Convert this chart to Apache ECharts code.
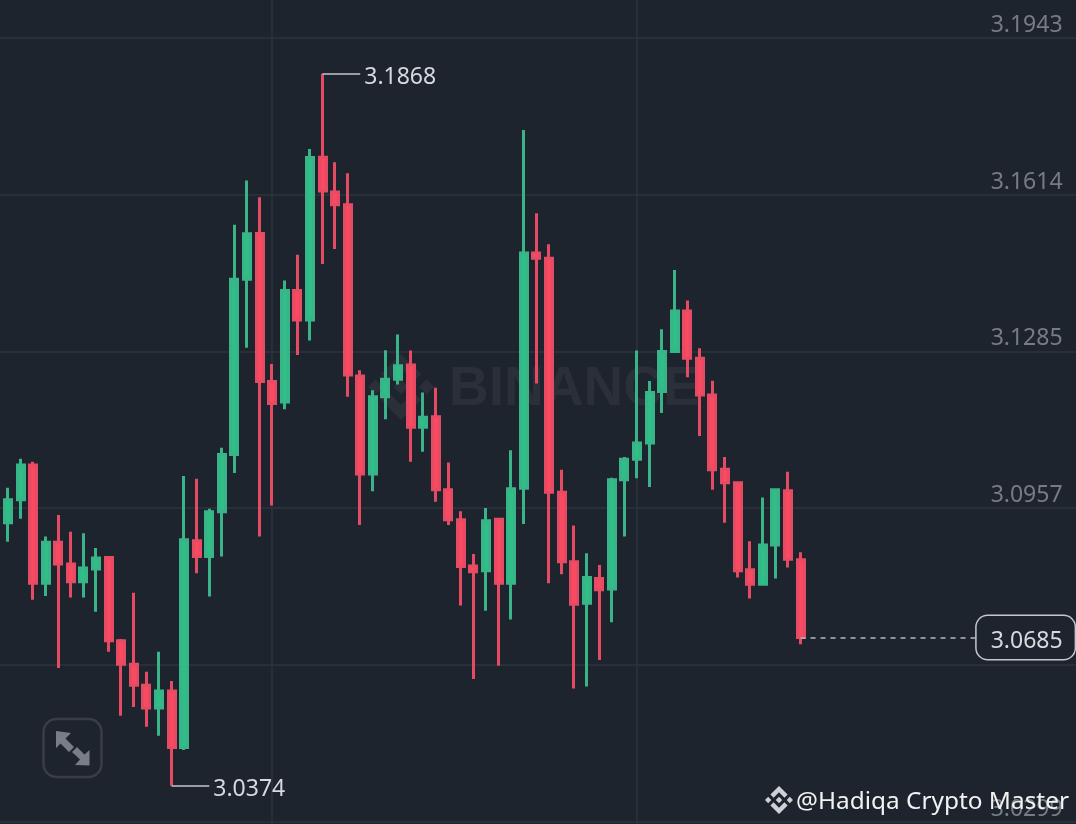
<!DOCTYPE html>
<html>
<head>
<meta charset="utf-8">
<title>Chart</title>
<script src="https://cdn.jsdelivr.net/npm/echarts@6/dist/echarts.min.js"></script>
<style>
  html, body { margin: 0; padding: 0; background: #1e242e; }
  #chart { width: 1076px; height: 824px; }
</style>
</head>
<body>
<div id="chart"></div>
<script>
const opens = [3.0974,3.0926,3.0974,3.1047,3.0799,3.0885,3.0839,3.0802,3.0829,3.0853,3.0678,3.0629,3.0585,3.0537,3.0573,3.0454,3.0888,3.0855,3.0949,3.1069,3.1437,3.1533,3.1222,3.1179,3.1413,3.1351,3.1693,3.1620,3.1593,3.1234,3.1028,3.1190,3.1227,3.1257,3.1126,3.1148,3.0995,3.0932,3.0835,3.0825,3.0933,3.0799,3.0998,3.1492,3.1481,3.0990,3.0844,3.0757,3.0809,3.0787,3.1016,3.1059,3.1093,3.1201,3.1285,3.1370,3.1271,3.1194,3.1038,3.1010,3.0827,3.0797,3.0879,3.0993,3.0848];
const closes = [3.0929,3.0974,3.1047,3.0799,3.0885,3.0839,3.0802,3.0831,3.0852,3.0678,3.0629,3.0585,3.0537,3.0573,3.0454,3.0890,3.0855,3.0949,3.1069,3.1437,3.1532,3.1222,3.1176,3.1413,3.1351,3.1692,3.1622,3.1593,3.1236,3.1028,3.1190,3.1227,3.1255,3.1126,3.1147,3.0995,3.0932,3.0834,3.0823,3.0930,3.0799,3.0997,3.1492,3.1481,3.0990,3.0844,3.0755,3.0811,3.0785,3.1016,3.1059,3.1093,3.1199,3.1285,3.1370,3.1271,3.1194,3.1037,3.1010,3.0825,3.0797,3.0879,3.0995,3.0849,3.0685];
const lows = [3.0911,3.0886,3.0934,3.0764,3.0772,3.0621,3.0769,3.0769,3.0739,3.0655,3.0521,3.0539,3.0498,3.0479,3.0374,3.0449,3.0820,3.0771,3.0855,3.1030,3.1293,3.0897,3.0962,3.1164,3.1278,3.1308,3.1469,3.1500,3.1190,3.0921,3.0992,3.1143,3.1216,3.1054,3.1075,3.0970,3.0921,3.0752,3.0598,3.0741,3.0626,3.0723,3.0923,3.1218,3.0799,3.0818,3.0578,3.0582,3.0638,3.0717,3.0897,3.1019,3.1001,3.1156,3.1285,3.1231,3.1108,3.0995,3.0926,3.0811,3.0767,3.0795,3.0809,3.0832,3.0671];
const highs = [3.0995,3.0999,3.1060,3.1054,3.0897,3.0942,3.0907,3.0904,3.0873,3.0856,3.0682,3.0779,3.0613,3.0655,3.0594,3.1024,3.1018,3.0955,3.1083,3.1551,3.1644,3.1609,3.1259,3.1434,3.1488,3.1710,3.1868,3.1682,3.1659,3.1246,3.1204,3.1288,3.1321,3.1287,3.1199,3.1209,3.1052,3.0950,3.0860,3.0957,3.0936,3.1078,3.1750,3.1575,3.1510,3.1037,3.0920,3.0862,3.0837,3.1020,3.1064,3.1287,3.1223,3.1332,3.1456,3.1392,3.1292,3.1224,3.1064,3.1012,3.0887,3.0979,3.0998,3.1033,3.0864];
const priceTicks = [3.1943, 3.16142, 3.12854, 3.09566, 3.06278, 3.0299];
const lastPrice = 3.0685;
const gridCandles = [22, 51];
const slots = 87;

const FONT = '"Noto Sans", sans-serif';

// Binance mark as five polygons on a 126.6 unit square
const LOGO_PARTS = [
  [[38.73,53.2],[63.3,28.63],[87.89,53.22],[102.19,38.92],[63.3,0],[24.42,38.88]],
  [[0,63.31],[14.3,49.01],[28.61,63.31],[14.3,77.61]],
  [[38.73,73.41],[63.3,97.98],[87.89,73.39],[102.2,87.68],[63.3,126.59],[24.42,87.71]],
  [[97.99,63.31],[112.29,49.01],[126.61,63.31],[112.3,77.61]],
  [[77.83,63.3],[63.3,48.76],[48.78,63.28],[63.3,77.8]]
];
function logo(x, y, size, fill, z) {
  const k = size / 126.6;
  return LOGO_PARTS.map(part => ({
    type: "polygon", z: z, silent: true,
    shape: { points: part.map(p => [x + p[0] * k, y + p[1] * k]) },
    style: { fill: fill }
  }));
}

const categories = [];
for (let i = 0; i < slots; i++) categories.push(String(i));

const candles = opens.map((o, i) => [o, closes[i], lows[i], highs[i]]);
const maxHigh = Math.max(...highs);
const minLow = Math.min(...lows);
const hiIdx = highs.indexOf(maxHigh);
const loIdx = lows.indexOf(minLow);
const lastIdx = opens.length - 1;

// top + small lineHeight pushes the digits a little below the connector
const extremeLabel = {
  show: true, position: "end", distance: 4, color: "#d6d9dd",
  fontFamily: FONT, fontSize: 23, verticalAlign: "top", lineHeight: 8, formatter: p => p.data.tag
};

const chart = echarts.init(document.getElementById("chart"));
chart.setOption({
  animation: false,
  backgroundColor: "#1e242e",
  grid: { left: -10.87, top: 0, width: 1094.46, height: 824, outerBoundsMode: "none" },
  xAxis: {
    type: "category",
    data: categories,
    axisLine: { show: false },
    axisTick: { show: false },
    axisLabel: { show: false },
    splitLine: { show: false }
  },
  yAxis: {
    type: "value",
    position: "right",
    min: 3.02937,
    max: 3.20227,
    axisLine: { show: false },
    axisTick: { show: false, customValues: priceTicks },
    axisLabel: {
      inside: true,
      margin: 21,
      customValues: priceTicks,
      verticalAlign: "bottom",
      padding: [0, 0, 1, 0],
      color: "#777c83",
      fontFamily: FONT,
      fontSize: 23,
      formatter: v => v.toFixed(4)
    },
    splitLine: { show: true, lineStyle: { color: "#2e333c", width: 1.5 } }
  },
  graphic: [
    ...logo(368, 354, 66, "#2a2f39", 0),
    {
      type: "text", z: 0, silent: true, x: 449, y: 362,
      style: { text: "BINANCE", fill: "#2a2f39", font: 'bold 55px "Liberation Sans", sans-serif' }
    },
    {
      type: "rect", z: 6, silent: true,
      shape: { x: 43.5, y: 719, width: 58, height: 58, r: 13 },
      style: { fill: "none", stroke: "#383d47", lineWidth: 2.5 }
    },
    {
      type: "polygon", z: 6, silent: true,
      shape: { points: [[56, 731], [71, 733], [65.5, 738.5], [74, 747], [69, 752], [60.5, 743.5], [56, 748]] },
      style: { fill: "#787d86" }
    },
    {
      type: "polygon", z: 6, silent: true,
      shape: { points: [[89.5, 765.5], [75, 765], [80, 759.5], [72, 752], [77, 747], [84.5, 754.5], [89.5, 750]] },
      style: { fill: "#787d86" }
    },
    ...logo(765, 786, 28, "#cfd1d4", 10),
    {
      type: "text", z: 10, silent: true, x: 796, y: 790,
      style: { text: "@Hadiqa Crypto Master", fill: "#f1f2f3", font: '24.4px "Noto Sans", sans-serif' }
    }
  ],
  series: [
    {
      type: "line",
      data: [],
      markLine: {
        silent: true, z: 1, symbol: "none", animation: false,
        label: { show: false },
        lineStyle: { color: "#2e333c", width: 1.5, type: "solid" },
        data: gridCandles.map(i => ({ xAxis: i }))
      }
    },
    {
      type: "candlestick",
      z: 2,
      barWidth: 7.5,
      data: candles,
      itemStyle: {
        color: "#2fbf86",
        color0: "#fa4a62",
        borderColor: "#38b488",
        borderColor0: "#e54b63",
        borderWidth: 3
      },
      markLine: {
        silent: true, z: 5, symbol: "none", animation: false,
        data: [
          [
            { coord: [hiIdx, maxHigh], tag: maxHigh.toFixed(4), label: extremeLabel, lineStyle: { color: "#c3c6cb", width: 1.5, type: "solid" } },
            { coord: [hiIdx + 3, maxHigh] }
          ],
          [
            { coord: [loIdx, minLow], tag: minLow.toFixed(4), label: extremeLabel, lineStyle: { color: "#c3c6cb", width: 1.5, type: "solid" } },
            { coord: [loIdx + 3, minLow] }
          ],
          [
            {
              coord: [lastIdx, lastPrice],
              tag: lastPrice.toFixed(4),
              lineStyle: { color: "#b5b9be", width: 1.5, type: [5, 5] },
              label: {
                show: true, position: "end", distance: 0,
                formatter: p => "{v|" + p.data.tag + "}",
                rich: { v: { color: "#d6d9dd", fontFamily: FONT, fontSize: 23, padding: [8, 0, 0, 0] } },
                backgroundColor: "#1e242e", borderColor: "#c3c6cb", borderWidth: 1.5, borderRadius: 11,
                padding: [6, 12, 6, 14]
              }
            },
            { coord: [lastIdx + 14, lastPrice] }
          ]
        ]
      }
    }
  ]
});
window.addEventListener("resize", () => chart.resize());
</script>
</body>
</html>
